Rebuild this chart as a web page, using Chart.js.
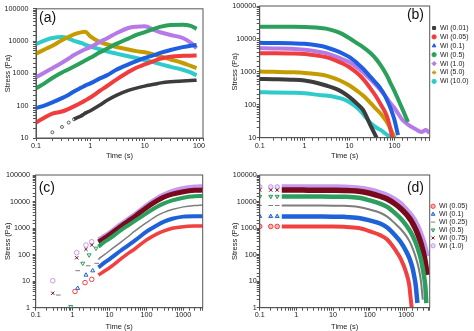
<!DOCTYPE html>
<html>
<head>
<meta charset="utf-8">
<script src="https://cdn.jsdelivr.net/npm/chart.js@4.4.1/dist/chart.umd.min.js"></script>
<style>
  html, body { margin: 0; padding: 0; background: #fff; }
  body { width: 474px; height: 331px; position: relative; overflow: hidden; }
  canvas { position: absolute; }
</style>
</head>
<body>
<canvas id="chartA" width="222" height="165" style="left:0;top:0"></canvas>
<canvas id="chartB" width="252" height="165" style="left:222px;top:0"></canvas>
<canvas id="chartC" width="222" height="166" style="left:0;top:165px"></canvas>
<canvas id="chartD" width="252" height="166" style="left:222px;top:165px"></canvas>
<script>
// (a) start-up, time in s
const aTimes = [0.1, 0.15, 0.2, 0.3, 0.4, 0.5, 0.7, 0.8, 1, 1.5, 2, 3, 5, 7, 10, 15, 20, 30, 50, 70, 90];
const aWi001 = [null, null, 15, 22, 30, 38, 50, 58, 70, 105, 145, 210, 300, 350, 405, 460, 510, 550, 580, 600, 615];
const aWi005 = [30, 45, 57, 66, 80, 95, 127, 145, 180, 290, 400, 640, 1100, 1500, 1900, 2450, 2900, 3300, 3500, 3550, 3600];
const aWi01 = [84, 105, 127, 172, 220, 274, 370, 420, 490, 700, 870, 1290, 1900, 2400, 3030, 3700, 4380, 5300, 6500, 7200, 7600];
const aWi05 = [345, 520, 720, 1070, 1350, 1630, 2200, 2500, 3030, 4500, 5800, 8200, 12000, 15500, 19000, 24000, 28000, 31500, 32000, 29500, 24000];
const aWi10 = [760, 1100, 1450, 2150, 2900, 3700, 5000, 5600, 6500, 9500, 12000, 17500, 25500, 28000, 29000, 22000, 18500, 15500, 12500, 9000, 6000];
const aWi50 = [4100, 5700, 7200, 10700, 13500, 16200, 19000, 19500, 14000, 9300, 8000, 6600, 5500, 4900, 4500, 3800, 3300, 2700, 2100, 1700, 1450];
const aWi100 = [8000, 10800, 12500, 13500, 12000, 10200, 8600, 7800, 6800, 5600, 4800, 4100, 3400, 3000, 2600, 2200, 1900, 1600, 1300, 1070, 870];

// (b) relaxation
const bTimes = [0.1, 0.2, 0.5, 1, 2, 3, 5, 7, 10, 15, 20, 30, 40, 50, 60, 70, 80, 90, 100, 120, 150, 200, 300, 400, 500, 600];
const bWi001 = [610, 600, 580, 545, 450, 385, 305, 240, 170, 105, 70, 22, 10];
const bWi005 = [3700, 3680, 3620, 3500, 3100, 2800, 2200, 1800, 1380, 900, 610, 300, 170, 100, 65, 40, 20, 10];
const bWi01 = [7600, 7550, 7450, 7100, 6300, 5600, 4400, 3600, 2800, 1800, 1250, 680, 440, 300, 200, 130, 85, 55, 35, 12];
const bWi05 = [23500, 23400, 23300, 23000, 22000, 20500, 17000, 14000, 10500, 7300, 5600, 3600, 2350, 1550, 1050, 720, 480, 350, 260, 150, 75, 30];
const bWi10 = [5200, 5150, 5050, 4700, 4100, 3700, 2900, 2400, 1950, 1350, 980, 570, 380, 270, 200, 150, 115, 95, 80, 55, 35, 25, 18, 15, 17, 14];
const bWi50 = [1020, 1000, 970, 930, 840, 770, 610, 500, 385, 260, 190, 110, 72, 53, 38, 28, 20, 14, 10];
const bWi100 = [240, 238, 232, 225, 200, 190, 170, 150, 120, 80, 53, 27, 20, 17, 14, 12, 11, 10];
const bLabels = ['Wi (0.01)', 'Wi (0.05)', 'Wi (0.1)', 'Wi (0.5)', 'Wi (1.0)', 'Wi (5.0)', 'Wi (10.0)'];

// (c) start-up: sparse early points, then dense band
const cTimes = [5, 7, 10, 20, 30, 50, 100, 200, 300, 500, 1000, 2000, 3400];
const cEarlyT005 = [1.16, 2.17, 3.3], cEarlyS005 = [4.1, 8.8, 11.7];
const cEarlyT01 = [1.37, 2.3, 3.5], cEarlyS01 = [5.4, 17, 24.8];
const cEarlyT025 = [0.41, 1.37, 2.65, 4.5], cEarlyS025 = [3.0, 24.8, 38, 47];
const cEarlyT05 = [0.89, 1.88, 2.8, 4.3], cEarlyS05 = [1.1, 47, 97, 173];
const cEarlyT075 = [0.29, 1.29, 2.3, 3.3], cEarlyS075 = [3.5, 76, 158, 230];
const cEarlyT10 = [0.29, 1.29, 2.3, 3.3], cEarlyS10 = [10.4, 118, 230, 306];
const cWi005 = [17, 23, 32, 68, 105, 170, 355, 620, 780, 980, 1130, 1190, 1200];
const cWi01 = [33, 48, 68, 140, 210, 350, 730, 1300, 1740, 2250, 2700, 2800, 2800];
const cWi025 = [65, 95, 140, 290, 450, 800, 1600, 3000, 3900, 5000, 6300, 7100, 7400];
const cWi05 = [200, 290, 400, 820, 1200, 1900, 3600, 6500, 8500, 11000, 13900, 15800, 16200];
const cWi075 = [300, 400, 560, 1150, 1700, 2800, 5850, 11000, 14800, 19000, 23400, 26500, 27000];
const cWi10 = [360, 480, 650, 1350, 2000, 3300, 7000, 13500, 18000, 24000, 31000, 35000, 36300];

// (d) relaxation
const dTimes = [0.1, 0.2, 0.3, 0.4, 0.5, 0.7, 1, 2, 5, 10, 20, 50, 100, 200, 300, 500, 700, 1000, 1200, 1300, 1400, 1500, 1600, 1800, 2000, 2200, 2500, 2800, 3000, 3300, 3500, 3700];
const dWi005 = [1160, 1150, 1150, 1150, 1150, 1150, 1150, 1150, 1140, 1140, 1120, 1000, 760, 530, 370, 150, 70, 20, 7, 2.5, 1];
const dWi01 = [2780, 2750, 2750, 2750, 2750, 2750, 2750, 2740, 2730, 2700, 2650, 2400, 1950, 1450, 1050, 520, 300, 130, 75, 55, 40, 28, 18, 7, 1.5];
const dWi025 = [7150, 7100, 7100, 7100, 7100, 7100, 7100, 7080, 7050, 7000, 6900, 6200, 5000, 3700, 2700, 1450, 920, 500, 330, 265, 210, 165, 130, 80, 48, 28, 10, 2];
const dWi05 = [15600, 15500, 15500, 15500, 15500, 15500, 15500, 15450, 15400, 15300, 15100, 13800, 11000, 8200, 6300, 3600, 2300, 1250, 860, 720, 600, 500, 410, 280, 190, 125, 65, 30, 17, 6, 1.5];
const dWi075 = [27200, 27000, 27000, 27000, 27000, 27000, 27000, 26900, 26800, 26600, 26200, 24500, 20500, 15500, 12500, 8000, 5500, 3300, 2400, 2050, 1750, 1480, 1250, 900, 640, 450, 270, 150, 100, 50, 28, 17];
const dWi10 = [35800, 35500, 35500, 35500, 35500, 35500, 35500, 35400, 35200, 35000, 34500, 32000, 27500, 21000, 17000, 11500, 8200, 4800, 3700, 3200, 2800, 2450, 2150, 1600, 1200, 900, 580, 370, 270, 160, 115, 85];
const dLabels = ['Wi (0.05)', 'Wi (0.1)', 'Wi (0.25)', 'Wi (0.5)', 'Wi (0.75)', 'Wi (1.0)'];

const colsAB = ['#3c3c3c', '#f03c3c', '#1e5ee0', '#2aa05a', '#b57ae6', '#c49c00', '#2fcaca'];
const colsCD = ['#f04040', '#1f62d8', '#7c7c7c', '#2c9e5e', '#780a1c', '#c59aee'];

const FONT = '"Liberation Sans", Arial, sans-serif';
Chart.defaults.font.family = FONT;
Chart.defaults.font.size = 7.2;
Chart.defaults.color = '#222';

const framePlugin = {
  id: 'frame',
  afterDatasetsDraw(chart) {
    const { ctx, chartArea: a } = chart;
    ctx.save();
    ctx.strokeStyle = '#555';
    ctx.lineWidth = 1;
    ctx.strokeRect(a.left, a.top, a.right - a.left, a.bottom - a.top);
    ctx.restore();
  }
};

const panelLabel = {
  id: 'panelLabel',
  afterDraw(chart, args, opts) {
    if (!opts.text) return;
    const { ctx, chartArea: a } = chart;
    ctx.save();
    ctx.font = '14px ' + FONT;
    ctx.fillStyle = '#111';
    ctx.textBaseline = 'middle';
    ctx.textAlign = opts.align;
    const x = opts.align === 'left' ? a.left + 3 : a.right - 5.7;
    ctx.fillText(opts.text, x, a.top + opts.dy);
    ctx.restore();
  }
};
Chart.register(framePlugin, panelLabel);

function logTick(v) {
  const e = Math.log10(v);
  return Math.abs(e - Math.round(e)) < 1e-6 ? String(+v.toPrecision(1)) : '';
}

function pts(times, vals) {
  return times.map((t, i) => ({ x: t, y: vals[i] })).filter(p => p.y !== null && p.y !== undefined);
}

function axes(o) {
  return {
    x: {
      type: 'logarithmic', min: o.xMin, max: o.xMax,
      afterFit: s => { s.height = o.xH; },
      border: { color: '#555', width: 1 },
      grid: { drawOnChartArea: false, tickLength: 3, color: '#555' },
      ticks: { autoSkip: false, maxRotation: 0, padding: o.xPad, callback: logTick },
      title: { display: true, text: 'Time (s)', font: { size: 7.5 }, padding: { top: 0, bottom: o.xTitlePad } }
    },
    y: {
      type: 'logarithmic', min: o.yMin, max: 100000,
      afterFit: s => { s.width = o.yW; },
      border: { color: '#555', width: 1 },
      grid: { drawOnChartArea: false, tickLength: 3, color: '#555' },
      ticks: { autoSkip: false, padding: o.yPad, callback: logTick },
      title: { display: true, text: 'Stress (Pa)', font: { size: 7.5 }, padding: { top: o.yTitlePad, bottom: 0 } }
    }
  };
}

function line(label, data, color, width, extra) {
  return Object.assign({
    label, data,
    borderColor: color, backgroundColor: color,
    pointBorderColor: color, pointBackgroundColor: color,
    borderWidth: width, pointRadius: 0, pointBorderWidth: 1,
    cubicInterpolationMode: 'monotone', clip: 0
  }, extra || {});
}

function legendOpts(titlePad, pad) {
  return {
    display: true, position: 'right', align: 'start', maxWidth: 44.3,
    title: { display: true, text: ' ', font: { size: 6 }, padding: { top: titlePad, bottom: 0 } },
    labels: { usePointStyle: true, boxWidth: 5, boxHeight: 3, padding: pad, font: { size: 7 }, color: '#222' }
  };
}

const base = { responsive: false, animation: false, events: [] };

// ---- (a)
const blackEarly = {
  pointRadius: c => (c.parsed && c.parsed.x < 1 ? 1.5 : 0),
  pointBackgroundColor: 'rgba(0,0,0,0)', pointBorderWidth: 0.8,
  segment: { borderColor: c => (c.p1.parsed.x <= 0.5 ? 'rgba(0,0,0,0)' : undefined) }
};
new Chart(document.getElementById('chartA'), {
  type: 'line',
  data: {
    datasets: [
      line('Wi (0.01)', pts(aTimes, aWi001), colsAB[0], 3.5, blackEarly),
      line('Wi (0.05)', pts(aTimes, aWi005), colsAB[1], 4),
      line('Wi (0.1)', pts(aTimes, aWi01), colsAB[2], 4),
      line('Wi (0.5)', pts(aTimes, aWi05), colsAB[3], 4),
      line('Wi (1.0)', pts(aTimes, aWi10), colsAB[4], 4),
      line('Wi (5.0)', pts(aTimes, aWi50), colsAB[5], 4),
      line('Wi (10.0)', pts(aTimes, aWi100), colsAB[6], 4)
    ]
  },
  options: Object.assign({}, base, {
    layout: { padding: { left: 0, top: 6, right: 19, bottom: 0 } },
    scales: axes({ xMin: 0.1, xMax: 118, yMin: 10, xH: 27, yW: 36, xPad: 1, yPad: 4.5, xTitlePad: 4.8, yTitlePad: 3.8 }),
    plugins: { legend: { display: false }, tooltip: { enabled: false }, panelLabel: { text: '(a)', align: 'left', dy: 9 } }
  })
});

// ---- (b)
const bStyles = ['rect', 'circle', 'triangle', 'circle', 'rectRot', 'star', 'circle'];
const bSeries = [bWi001, bWi005, bWi01, bWi05, bWi10, bWi50, bWi100];
new Chart(document.getElementById('chartB'), {
  type: 'line',
  data: {
    datasets: bSeries.map((v, i) => line(bLabels[i], pts(bTimes, v), colsAB[i], 4, { pointStyle: bStyles[i] }))
  },
  options: Object.assign({}, base, {
    layout: { padding: { left: 0, top: 6, right: 0, bottom: 0 } },
    scales: axes({ xMin: 0.1, xMax: 610, yMin: 10, xH: 27.3, yW: 37.7, xPad: 1, yPad: 0.5, xTitlePad: 4.8, yTitlePad: 8 }),
    plugins: { legend: legendOpts(9.4, 1.9), tooltip: { enabled: false }, panelLabel: { text: '(b)', align: 'right', dy: 9 } }
  })
});

// ---- (c)
const cdStyles = ['circle', 'triangle', 'line', 'triangle', 'crossRot', 'circle'];
const cdRot = [0, 0, 0, 180, 0, 0];
const cdWidths = [3.5, 4, 1.5, 4, 5, 5];
const cEarlyT = [cEarlyT005, cEarlyT01, cEarlyT025, cEarlyT05, cEarlyT075, cEarlyT10];
const cEarlyS = [cEarlyS005, cEarlyS01, cEarlyS025, cEarlyS05, cEarlyS075, cEarlyS10];
const cBand = [cWi005, cWi01, cWi025, cWi05, cWi075, cWi10];
new Chart(document.getElementById('chartC'), {
  type: 'line',
  data: {
    datasets: cBand.map((v, i) => line(dLabels[i], pts(cEarlyT[i], cEarlyS[i]).concat(pts(cTimes, v)), colsCD[i], cdWidths[i], {
      pointStyle: cdStyles[i], rotation: cdRot[i],
      pointBackgroundColor: 'rgba(0,0,0,0)',
      pointRadius: c => (c.parsed && c.parsed.x < 4.8 ? 2.3 : 0),
      segment: { borderColor: c => (c.p0.parsed.x < 4.8 ? 'rgba(0,0,0,0)' : undefined) }
    }))
  },
  options: Object.assign({}, base, {
    layout: { padding: { left: 0, top: 10, right: 19.3, bottom: 0 } },
    scales: axes({ xMin: 0.1, xMax: 3340, yMin: 1, xH: 23.3, yW: 35.7, xPad: 0.5, yPad: 2.7, xTitlePad: 0, yTitlePad: 3.8 }),
    plugins: { legend: { display: false }, tooltip: { enabled: false }, panelLabel: { text: '(c)', align: 'left', dy: 12.7 } }
  })
});

// ---- (d)
const dSeries = [dWi005, dWi01, dWi025, dWi05, dWi075, dWi10];
new Chart(document.getElementById('chartD'), {
  type: 'line',
  data: {
    datasets: dSeries.map((v, i) => line(dLabels[i], pts(dTimes, v), colsCD[i], cdWidths[i] + 0.5, {
      pointStyle: cdStyles[i], rotation: cdRot[i],
      pointBackgroundColor: colsCD[i] + '66',
      pointRadius: c => (c.parsed && c.parsed.x < 0.35 ? 2.3 : 0),
      segment: { borderColor: c => (c.p0.parsed.x < 0.35 ? 'rgba(0,0,0,0)' : undefined) }
    }))
  },
  options: Object.assign({}, base, {
    layout: { padding: { left: 0, top: 10, right: 0, bottom: 0 } },
    scales: axes({ xMin: 0.1, xMax: 4330, yMin: 1, xH: 23.3, yW: 37.7, xPad: 0.5, yPad: 0, xTitlePad: 0, yTitlePad: 8 }),
    plugins: { legend: legendOpts(19.7, 0.9), tooltip: { enabled: false }, panelLabel: { text: '(d)', align: 'right', dy: 12.7 } }
  })
});
</script>
</body>
</html>
